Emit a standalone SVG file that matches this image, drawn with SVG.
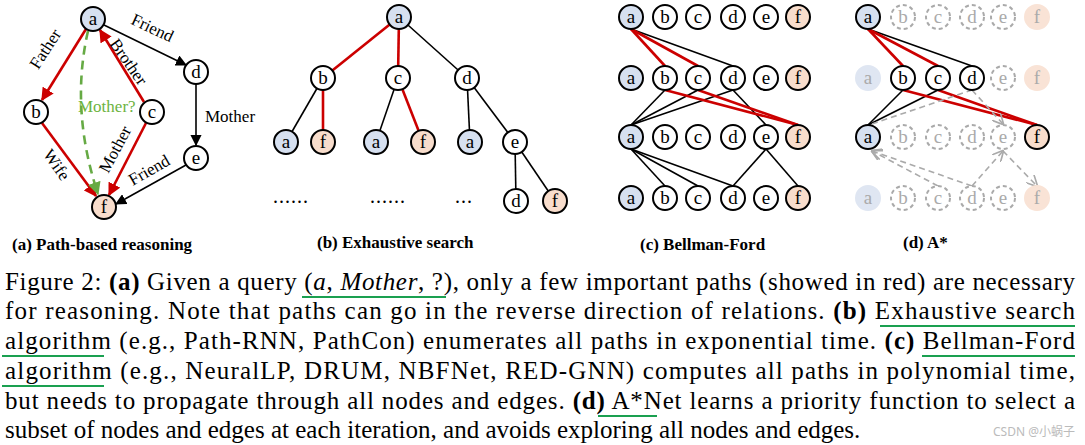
<svg xmlns="http://www.w3.org/2000/svg" width="1085" height="445" viewBox="0 0 1085 445" font-family="'Liberation Serif','Times New Roman',Tinos,serif">
<defs>
<style>
.n{fill:#fff;stroke:#000;stroke-width:2}
.q{fill:#d6e0f0;stroke:#000;stroke-width:2}
.t{fill:#f8ddcc;stroke:#000;stroke-width:2}
.gn{fill:#fff;stroke:#aaa;stroke-width:2;stroke-dasharray:4 3}
.gq{fill:#dfe6f2;stroke:#dfe6f2;stroke-width:2}
.gt{fill:#f9e3d6;stroke:#f9e3d6;stroke-width:2}
.l{font-size:19px;text-anchor:middle}
.gl{font-size:19px;text-anchor:middle;fill:#aaa}
.e{stroke:#000;stroke-width:1.6;fill:none}
.r{stroke:#c00;stroke-width:2.6;fill:none}
.d{stroke:#aaa;stroke-width:1.6;stroke-dasharray:6 4;fill:none}
.cap{font-size:25px}
.sub{font-size:17px;font-weight:bold}
.u{stroke:#1aa050;stroke-width:2}
.el{font-size:17px}
</style>
<marker id="ak" viewBox="0 0 10 10" refX="9" refY="5" markerWidth="7" markerHeight="7" orient="auto"><path d="M0,0L10,5L0,10z" fill="#000"/></marker>
<marker id="ar" viewBox="0 0 10 10" refX="9" refY="5" markerWidth="5" markerHeight="5" orient="auto"><path d="M0,0L10,5L0,10z" fill="#c00"/></marker>
<marker id="ag" viewBox="0 0 10 10" refX="9" refY="5" markerWidth="5" markerHeight="5" orient="auto"><path d="M0,0L10,5L0,10z" fill="#6a4"/></marker>
<marker id="ad" viewBox="0 0 10 10" refX="9" refY="5" markerWidth="7" markerHeight="7" orient="auto"><path d="M0,0L10,5L0,10" fill="none" stroke="#aaa" stroke-width="1.5"/></marker>
</defs>
<g id="connectors">
<line class="r" x1="86" y1="29" x2="42" y2="100" marker-end="url(#ar)"/>
<line class="r" x1="144" y1="102" x2="100" y2="30" marker-end="url(#ar)"/>
<line class="e" x1="104" y1="25" x2="186" y2="65" marker-end="url(#ak)"/>
<line class="e" x1="196" y1="84" x2="196" y2="145" marker-end="url(#ak)"/>
<line class="e" x1="186" y1="165" x2="116" y2="204" marker-end="url(#ak)"/>
<line class="r" x1="42" y1="123" x2="96" y2="196" marker-end="url(#ar)"/>
<line class="r" x1="146" y1="123" x2="109" y2="195" marker-end="url(#ar)"/>
<path d="M88,31 Q70,110 98,194" stroke="#6a4" stroke-width="2.6" stroke-dasharray="9 6" fill="none" marker-end="url(#ag)"/>
<line class="r" x1="399" y1="17" x2="323" y2="78"/>
<line class="r" x1="399" y1="17" x2="398" y2="78"/>
<line class="e" x1="399" y1="17" x2="467" y2="78"/>
<line class="e" x1="323" y1="78" x2="286" y2="142"/>
<line class="r" x1="323" y1="78" x2="323" y2="142"/>
<line class="e" x1="398" y1="78" x2="376" y2="142"/>
<line class="r" x1="398" y1="78" x2="423" y2="142"/>
<line class="e" x1="467" y1="78" x2="470" y2="142"/>
<line class="e" x1="467" y1="78" x2="515" y2="142"/>
<line class="e" x1="515" y1="142" x2="516" y2="201"/>
<line class="e" x1="515" y1="142" x2="555" y2="201"/>
<g class="e">
<line x1="631" y1="29" x2="733" y2="66"/>
<line x1="665" y1="90" x2="631" y2="125"/>
<line x1="698" y1="90" x2="631" y2="125"/>
<line x1="733" y1="90" x2="631" y2="125"/>
<line x1="733" y1="90" x2="766" y2="125"/>
<line x1="631" y1="149" x2="665" y2="186"/>
<line x1="631" y1="149" x2="698" y2="186"/>
<line x1="631" y1="149" x2="733" y2="186"/>
<line x1="766" y1="149" x2="733" y2="186"/>
<line x1="766" y1="149" x2="798" y2="186"/>
</g>
<g class="r" stroke-width="2.2">
<line x1="631" y1="29" x2="665" y2="66"/>
<line x1="631" y1="29" x2="698" y2="66"/>
<line x1="665" y1="90" x2="798" y2="125"/>
<line x1="698" y1="90" x2="798" y2="125"/>
</g>
<g class="e">
<line x1="868" y1="29" x2="972" y2="66"/>
<line x1="903" y1="90" x2="868" y2="125"/>
<line x1="938" y1="90" x2="868" y2="125"/>
</g>
<g class="r" stroke-width="2.2">
<line x1="868" y1="29" x2="903" y2="66"/>
<line x1="868" y1="29" x2="938" y2="66"/>
<line x1="903" y1="90" x2="1037" y2="125"/>
<line x1="938" y1="90" x2="1037" y2="125"/>
</g>
<g class="d">
<line x1="872" y1="124" x2="972" y2="90"/>
<line x1="972" y1="90" x2="1003" y2="124" marker-end="url(#ad)"/>
<line x1="938" y1="186" x2="872" y2="151" marker-end="url(#ad)"/>
<line x1="972" y1="186" x2="872" y2="151" marker-end="url(#ad)"/>
<line x1="972" y1="186" x2="1003" y2="151" marker-end="url(#ad)"/>
<line x1="1003" y1="151" x2="1037" y2="186" marker-end="url(#ad)"/>
</g>
</g>
<g id="nodes-a">
<g id="a-a"><circle class="q" cx="93" cy="19" r="12"/><text class="l" x="93" y="25">a</text></g>
<g id="a-d"><circle class="n" cx="196" cy="72" r="12"/><text class="l" x="196" y="78">d</text></g>
<g id="a-b"><circle class="n" cx="36" cy="112" r="12"/><text class="l" x="36" y="118">b</text></g>
<g id="a-c"><circle class="n" cx="152" cy="112" r="12"/><text class="l" x="152" y="118">c</text></g>
<g id="a-e"><circle class="n" cx="196" cy="158" r="12"/><text class="l" x="196" y="164">e</text></g>
<g id="a-f"><circle class="t" cx="104" cy="207" r="12"/><text class="l" x="104" y="213">f</text></g>
<text class="el" transform="translate(150,33) rotate(25)" text-anchor="middle">Friend</text>
<text class="el" transform="translate(50,52) rotate(-57)" text-anchor="middle">Father</text>
<text class="el" transform="translate(124,65) rotate(55)" text-anchor="middle">Brother</text>
<text class="el" x="205" y="122">Mother</text>
<text class="el" fill="#6db33f" x="78" y="112">Mother?</text>
<text class="el" transform="translate(52,168) rotate(55)" text-anchor="middle">Wife</text>
<text class="el" transform="translate(120,152) rotate(-62)" text-anchor="middle">Mother</text>
<text class="el" transform="translate(152,175) rotate(-30)" text-anchor="middle">Friend</text>
</g>
<g id="nodes-b">
<g><circle class="q" cx="399" cy="17" r="12"/><text class="l" x="399" y="23">a</text></g>
<g><circle class="n" cx="323" cy="78" r="12"/><text class="l" x="323" y="84">b</text></g>
<g><circle class="n" cx="398" cy="78" r="12"/><text class="l" x="398" y="84">c</text></g>
<g><circle class="n" cx="467" cy="78" r="12"/><text class="l" x="467" y="84">d</text></g>
<g><circle class="q" cx="286" cy="142" r="12"/><text class="l" x="286" y="148">a</text></g>
<g><circle class="t" cx="323" cy="142" r="12"/><text class="l" x="323" y="148">f</text></g>
<g><circle class="q" cx="376" cy="142" r="12"/><text class="l" x="376" y="148">a</text></g>
<g><circle class="t" cx="423" cy="142" r="12"/><text class="l" x="423" y="148">f</text></g>
<g><circle class="q" cx="470" cy="142" r="12"/><text class="l" x="470" y="148">a</text></g>
<g><circle class="n" cx="515" cy="142" r="12"/><text class="l" x="515" y="148">e</text></g>
<g><circle class="n" cx="516" cy="201" r="12"/><text class="l" x="516" y="207">d</text></g>
<g><circle class="t" cx="555" cy="201" r="12"/><text class="l" x="555" y="207">f</text></g>
<text font-size="20" x="273" y="203" letter-spacing="1">......</text>
<text font-size="20" x="370" y="203" letter-spacing="1">......</text>
<text font-size="20" x="455" y="203" letter-spacing="1">...</text>
</g>
<g id="nodes-c">
<g id="c-r0"><circle class="q" cx="631" cy="17" r="12"/><text class="l" x="631" y="23">a</text><circle class="n" cx="665" cy="17" r="12"/><text class="l" x="665" y="23">b</text><circle class="n" cx="698" cy="17" r="12"/><text class="l" x="698" y="23">c</text><circle class="n" cx="733" cy="17" r="12"/><text class="l" x="733" y="23">d</text><circle class="n" cx="766" cy="17" r="12"/><text class="l" x="766" y="23">e</text><circle class="t" cx="798" cy="17" r="12"/><text class="l" x="798" y="23">f</text></g>
<g id="c-r1"><circle class="q" cx="631" cy="78" r="12"/><text class="l" x="631" y="84">a</text><circle class="n" cx="665" cy="78" r="12"/><text class="l" x="665" y="84">b</text><circle class="n" cx="698" cy="78" r="12"/><text class="l" x="698" y="84">c</text><circle class="n" cx="733" cy="78" r="12"/><text class="l" x="733" y="84">d</text><circle class="n" cx="766" cy="78" r="12"/><text class="l" x="766" y="84">e</text><circle class="t" cx="798" cy="78" r="12"/><text class="l" x="798" y="84">f</text></g>
<g id="c-r2"><circle class="q" cx="631" cy="137" r="12"/><text class="l" x="631" y="143">a</text><circle class="n" cx="665" cy="137" r="12"/><text class="l" x="665" y="143">b</text><circle class="n" cx="698" cy="137" r="12"/><text class="l" x="698" y="143">c</text><circle class="n" cx="733" cy="137" r="12"/><text class="l" x="733" y="143">d</text><circle class="n" cx="766" cy="137" r="12"/><text class="l" x="766" y="143">e</text><circle class="t" cx="798" cy="137" r="12"/><text class="l" x="798" y="143">f</text></g>
<g id="c-r3"><circle class="q" cx="631" cy="198" r="12"/><text class="l" x="631" y="204">a</text><circle class="n" cx="665" cy="198" r="12"/><text class="l" x="665" y="204">b</text><circle class="n" cx="698" cy="198" r="12"/><text class="l" x="698" y="204">c</text><circle class="n" cx="733" cy="198" r="12"/><text class="l" x="733" y="204">d</text><circle class="n" cx="766" cy="198" r="12"/><text class="l" x="766" y="204">e</text><circle class="t" cx="798" cy="198" r="12"/><text class="l" x="798" y="204">f</text></g>
</g>
<g id="nodes-d">
<g id="d-r0"><circle class="q" cx="868" cy="17" r="12"/><text class="l" x="868" y="23">a</text><circle class="gn" cx="903" cy="17" r="12"/><text class="gl" x="903" y="23">b</text><circle class="gn" cx="938" cy="17" r="12"/><text class="gl" x="938" y="23">c</text><circle class="gn" cx="972" cy="17" r="12"/><text class="gl" x="972" y="23">d</text><circle class="gn" cx="1003" cy="17" r="12"/><text class="gl" x="1003" y="23">e</text><circle class="gt" cx="1037" cy="17" r="12"/><text class="gl" x="1037" y="23">f</text></g>
<g id="d-r1"><circle class="gq" cx="868" cy="78" r="12"/><text class="gl" x="868" y="84">a</text><circle class="n" cx="903" cy="78" r="12"/><text class="l" x="903" y="84">b</text><circle class="n" cx="938" cy="78" r="12"/><text class="l" x="938" y="84">c</text><circle class="n" cx="972" cy="78" r="12"/><text class="l" x="972" y="84">d</text><circle class="gn" cx="1003" cy="78" r="12"/><text class="gl" x="1003" y="84">e</text><circle class="gt" cx="1037" cy="78" r="12"/><text class="gl" x="1037" y="84">f</text></g>
<g id="d-r2"><circle class="q" cx="868" cy="137" r="12"/><text class="l" x="868" y="143">a</text><circle class="gn" cx="903" cy="137" r="12"/><text class="gl" x="903" y="143">b</text><circle class="gn" cx="938" cy="137" r="12"/><text class="gl" x="938" y="143">c</text><circle class="gn" cx="972" cy="137" r="12"/><text class="gl" x="972" y="143">d</text><circle class="gn" cx="1003" cy="137" r="12"/><text class="gl" x="1003" y="143">e</text><circle class="t" cx="1037" cy="137" r="12"/><text class="l" x="1037" y="143">f</text></g>
<g id="d-r3"><circle class="gq" cx="868" cy="198" r="12"/><text class="gl" x="868" y="204">a</text><circle class="gn" cx="903" cy="198" r="12"/><text class="gl" x="903" y="204">b</text><circle class="gn" cx="938" cy="198" r="12"/><text class="gl" x="938" y="204">c</text><circle class="gn" cx="972" cy="198" r="12"/><text class="gl" x="972" y="204">d</text><circle class="gn" cx="1003" cy="198" r="12"/><text class="gl" x="1003" y="204">e</text><circle class="gt" cx="1037" cy="198" r="12"/><text class="gl" x="1037" y="204">f</text></g>
</g>
<g id="subcaptions">
<text class="sub" x="12" y="250">(a) Path-based reasoning</text>
<text class="sub" x="317" y="248">(b) Exhaustive search</text>
<text class="sub" x="640" y="250">(c) Bellman-Ford</text>
<text class="sub" x="903" y="248">(d) A*</text>
</g>
<g id="caption">
<text class="cap" x="5" y="290" textLength="1070" lengthAdjust="spacing">Figure 2: <tspan font-weight="bold">(a)</tspan> Given a query (<tspan font-style="italic">a</tspan>, <tspan font-style="italic">Mother</tspan>, ?), only a few important paths (showed in red) are necessary</text>
<text class="cap" x="5" y="319" textLength="1070" lengthAdjust="spacing">for reasoning.  Note that paths can go in the reverse direction of relations. <tspan font-weight="bold">(b)</tspan> Exhaustive search</text>
<text class="cap" x="5" y="349" textLength="1070" lengthAdjust="spacing">algorithm (e.g., Path-RNN, PathCon) enumerates all paths in exponential time. <tspan font-weight="bold">(c)</tspan> Bellman-Ford</text>
<text class="cap" x="5" y="379" textLength="1070" lengthAdjust="spacing">algorithm (e.g., NeuralLP, DRUM, NBFNet, RED-GNN) computes all paths in polynomial time,</text>
<text class="cap" x="5" y="409" textLength="1070" lengthAdjust="spacing">but needs to propagate through all nodes and edges. <tspan font-weight="bold">(d)</tspan> A*Net learns a priority function to select a</text>
<text class="cap" x="5" y="438">subset of nodes and edges at each iteration, and avoids exploring all nodes and edges.</text>
<line class="u" x1="302" y1="297" x2="446" y2="297"/>
<line class="u" x1="880" y1="326" x2="1075" y2="326"/>
<line class="u" x1="2" y1="356" x2="104" y2="356"/>
<line class="u" x1="922" y1="356" x2="1075" y2="356"/>
<line class="u" x1="2" y1="386" x2="104" y2="386"/>
<line class="u" x1="598" y1="416" x2="657" y2="416"/>
<text x="1075" y="436" font-size="12" fill="#bbb" text-anchor="end" font-family="'Noto Sans','Noto Sans CJK SC',sans-serif">CSDN @小蜗子</text>
</g>
</svg>
